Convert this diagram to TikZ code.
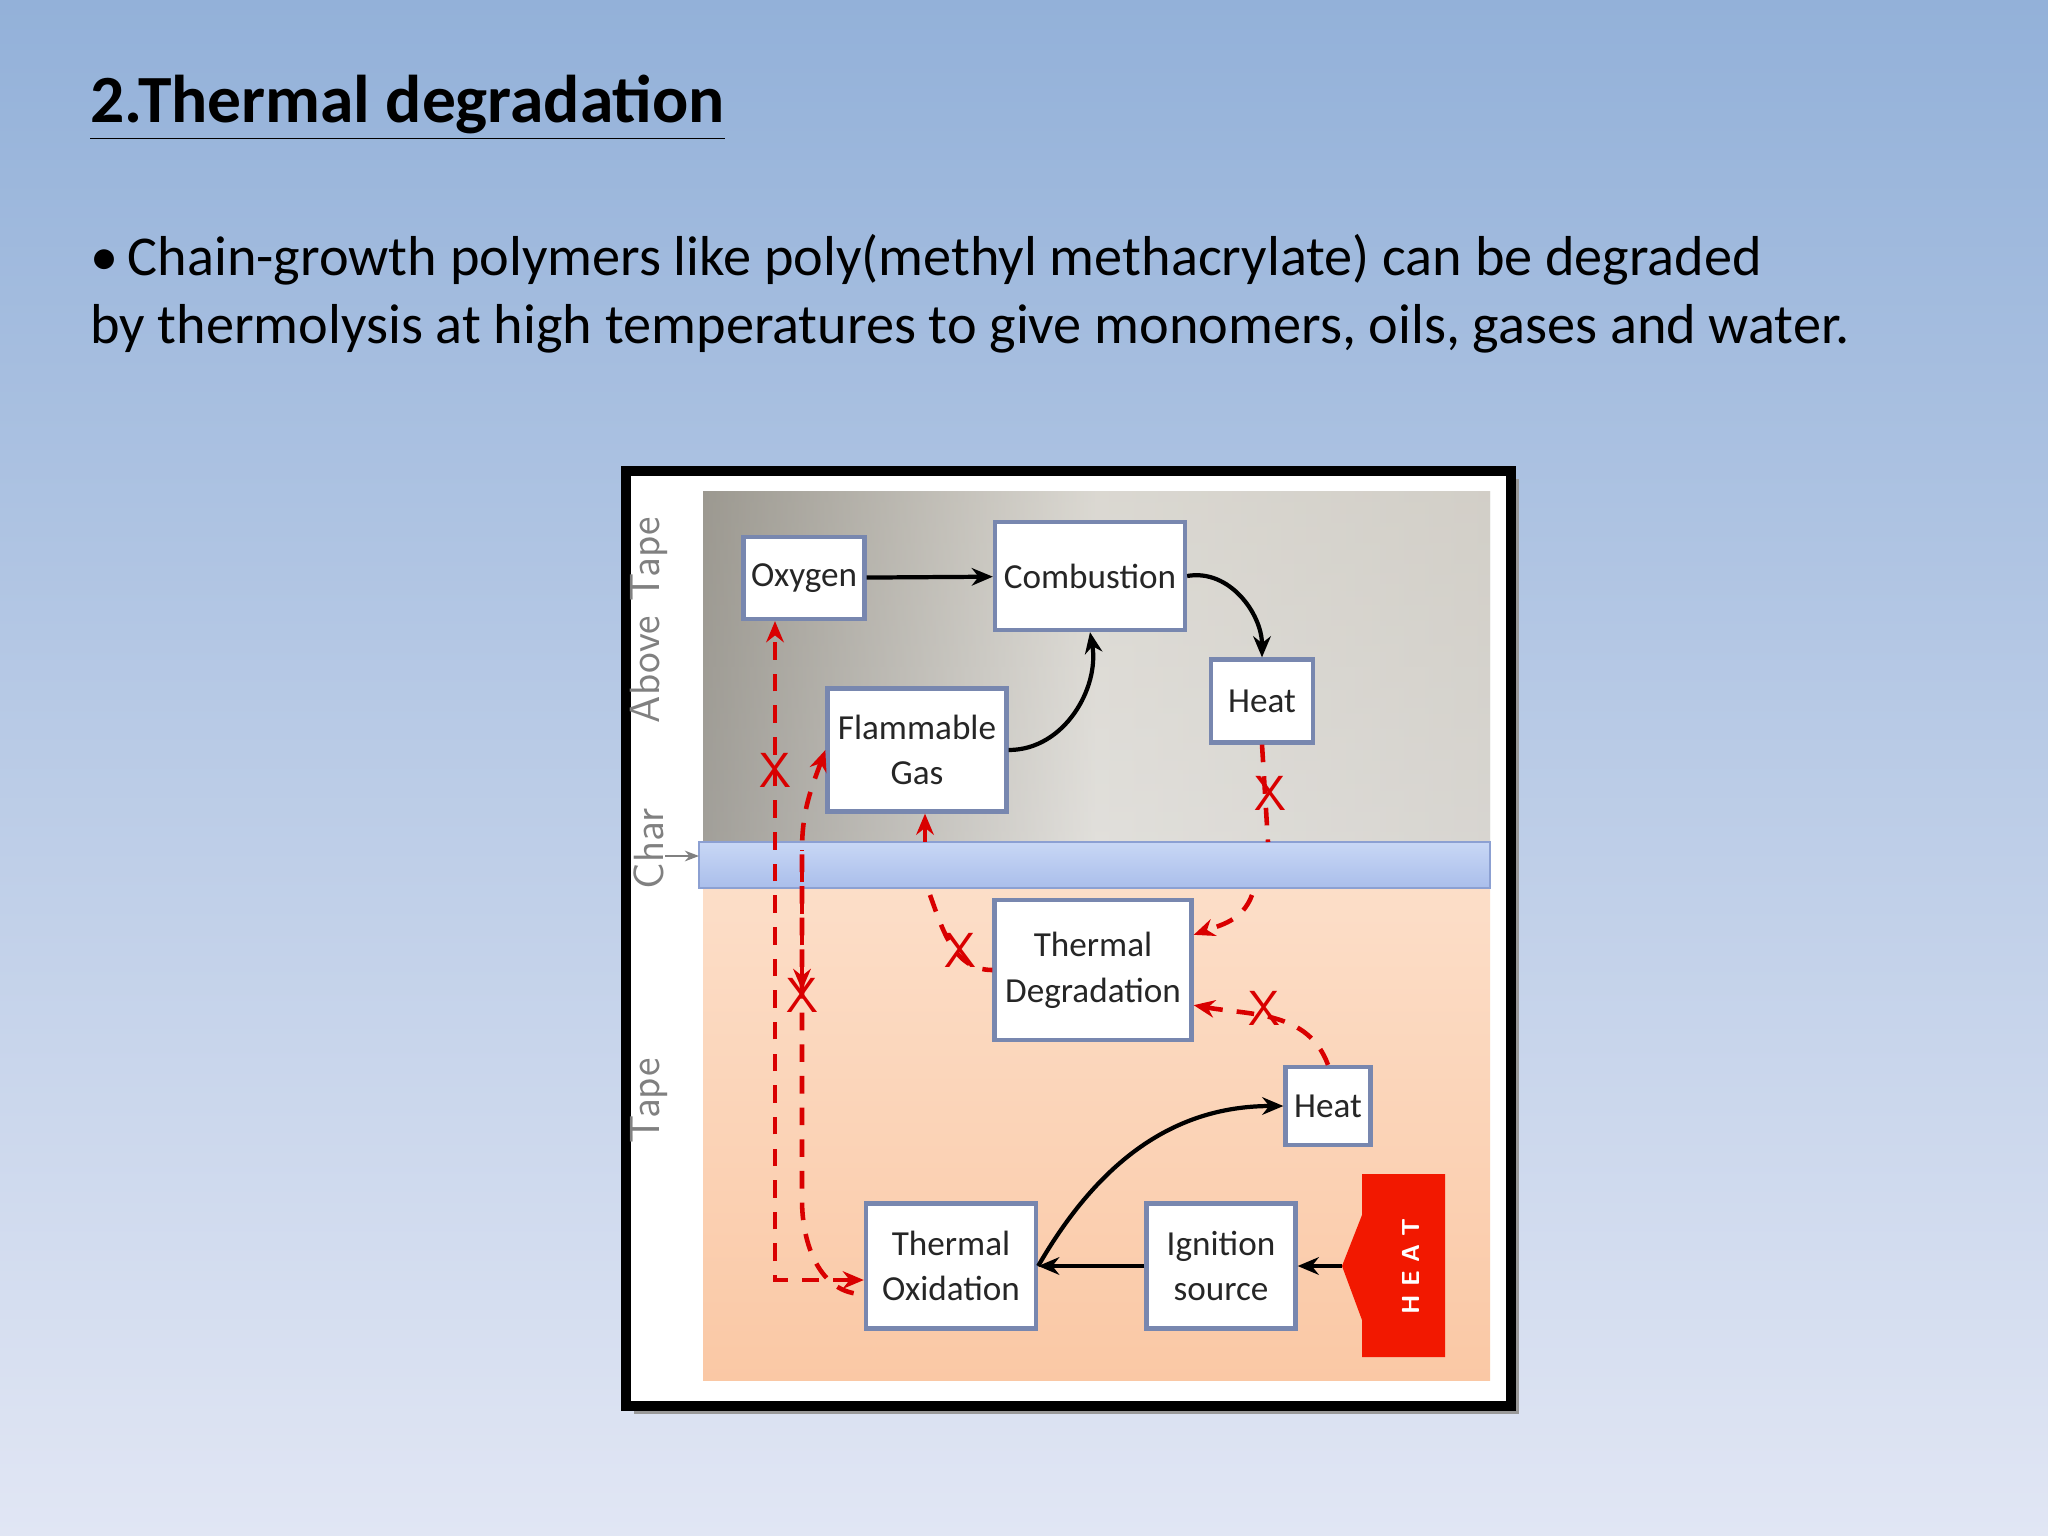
\documentclass[tikz,border=0pt]{standalone}
\usepackage{fontspec}
\setmainfont{Carlito}
\usetikzlibrary{arrows.meta}
\begin{document}
\begin{tikzpicture}[x=0.01cm,y=-0.01cm,>={Stealth[length=6pt,width=5pt]},
  box/.style={draw={rgb,255:red,120;green,135;blue,175},line width=1.2pt,fill=white,inner sep=0pt,align=center,font=\fontsize{10}{13}\selectfont,text=black!85},
  blk/.style={line width=1.2pt,->},
  rdash/.style={draw=red!85!black,line width=1.3pt,dash pattern=on 5pt off 4pt},
  xmark/.style={text=red!85!black,font=\sffamily\fontsize{14}{14}\selectfont},
  side/.style={rotate=90,text=gray,font=\sffamily\fontsize{12}{12}\selectfont},
  bodytxt/.style={anchor=base west,font=\fontsize{16}{19}\selectfont}]
\useasboundingbox (0,0) rectangle (2048,1536);
\shade[top color={rgb,255:red,147;green,177;blue,217},bottom color={rgb,255:red,225;green,230;blue,244}] (0,0) rectangle (2048,1536);
\node[anchor=base west,font=\bfseries\fontsize{19.2}{24}\selectfont] (title) at (78,122) {\underline{2.Thermal degradation}};
\node[bodytxt] (body1) at (78,275) {\textbullet\,Chain-growth polymers like poly(methyl methacrylate) can be degraded};
\node[bodytxt] (body2) at (78,343) {by thermolysis at high temperatures to give monomers, oils, gases and water.};
% frame
\fill[black!40] (634,479) rectangle (1519,1414);
\draw[line width=3pt,fill=white] (626,471) rectangle (1511,1406);
\shade[left color={rgb,255:red,100;green,96;blue,86},right color={rgb,255:red,190;green,186;blue,178},middle color={rgb,255:red,205;green,202;blue,195}] (703,491) rectangle (1490,842);
\shade[top color={rgb,255:red,240;green,238;blue,232},bottom color=white,opacity=0.4] (703,491) rectangle (1490,842);
\shade[top color={rgb,255:red,252;green,222;blue,200},bottom color={rgb,255:red,250;green,200;blue,165}] (703,888) rectangle (1490,1380);
\shade[top color={rgb,255:red,200;green,215;blue,245},bottom color={rgb,255:red,170;green,190;blue,235},draw={rgb,255:red,140;green,160;blue,210}] (699,842) rectangle (1490,888);
% side labels
\node[side] (lab1) at (649,620) {Above Tape};
\node[side] (lab2) at (649,849) {Char};
\node[side] (lab3) at (649,1101) {Tape};
\coordinate (chA) at (665,856);
\coordinate (chB) at (699,856);
\draw[gray,line width=0.8pt,-{Stealth[length=4pt]}] (chA) -- (chB);
% boxes
\node[box,minimum width=12.1mm,minimum height=8.2mm] (oxy) at (804,578) {Oxygen};
\node[box,minimum width=19mm,minimum height=10.8mm] (comb) at (1090,576) {Combustion};
\node[box,minimum width=10.2mm,minimum height=8.3mm] (heat1) at (1262,701) {Heat};
\node[box,minimum width=17.9mm,minimum height=12.3mm] (gas) at (917,750) {Flammable\\Gas};
\node[box,minimum width=19.7mm,minimum height=14mm] (td) at (1093,970) {Thermal\\Degradation};
\node[box,minimum width=8.5mm,minimum height=7.8mm] (heat2) at (1328,1106) {Heat};
\node[box,minimum width=17mm,minimum height=12.5mm] (to) at (951,1266) {Thermal\\Oxidation};
\node[box,minimum width=14.9mm,minimum height=12.5mm] (ign) at (1221,1266) {Ignition\\source};
% HEAT shape
\fill[red!80!orange!95!black] (1445,1174) -- (1445,1357) -- (1362,1357) -- (1362,1320) -- (1342,1266) -- (1362,1215) -- (1362,1174) -- cycle;
\node[rotate=90,text=white,font=\sffamily\bfseries\fontsize{7}{7}\selectfont] (heatbig) at (1411,1266) {H\,\,E\,\,A\,\,T};
\coordinate (hb) at (1342,1266);
% black arrows
\draw[blk] (oxy) -- (comb);
\draw[blk] (comb.east) to[out=10,in=90] (heat1.north);
\draw[blk] (gas.east) to[out=0,in=-80] (comb.south);
\draw[blk] (hb) -- (ign);
\draw[blk] (ign) -- (to);
\draw[blk] (to.east) to[out=60,in=180] (heat2.west);
% red dashed
\coordinate (r1) at (775,1280);
\coordinate (r1top) at (775,619);
\draw[rdash,<->] (to.west|-r1) -| (oxy.south-|r1top);
\node[xmark] (x1) at (775,770) {X};
\coordinate (r2a) at (802,850);
\coordinate (r2b) at (802,1200);
\draw[rdash,<-] (gas.west) to[out=-110,in=90] (r2a) -- (r2b) to[out=-90,in=180] ([yshift=-8]to.west);
\coordinate (r2c) at (802,990);
\draw[rdash,<-] (r2c) -- (r2a);
\node[xmark] (x2) at (802,995) {X};
\coordinate (g1) at (925,842);
\draw[rdash,<-] (gas.south-|g1) -- (g1);
\coordinate (g2) at (930,895);
\draw[rdash] (g2) to[out=-70,in=180] (td.west);
\node[xmark] (x3) at (960,950) {X};
\coordinate (h1) at (1268,842);
\draw[rdash] (heat1.south) -- (h1);
\node[xmark] (x4) at (1270,793) {X};
\coordinate (h1b) at (1252,895);
\draw[rdash,->] (h1b) to[out=-110,in=20] ([yshift=10]td.east);
\draw[rdash,->] (heat2.north) to[out=110,in=-10] ([yshift=-10]td.east);
\node[xmark] (x5) at (1264,1008) {X};
\end{tikzpicture}
\end{document}
